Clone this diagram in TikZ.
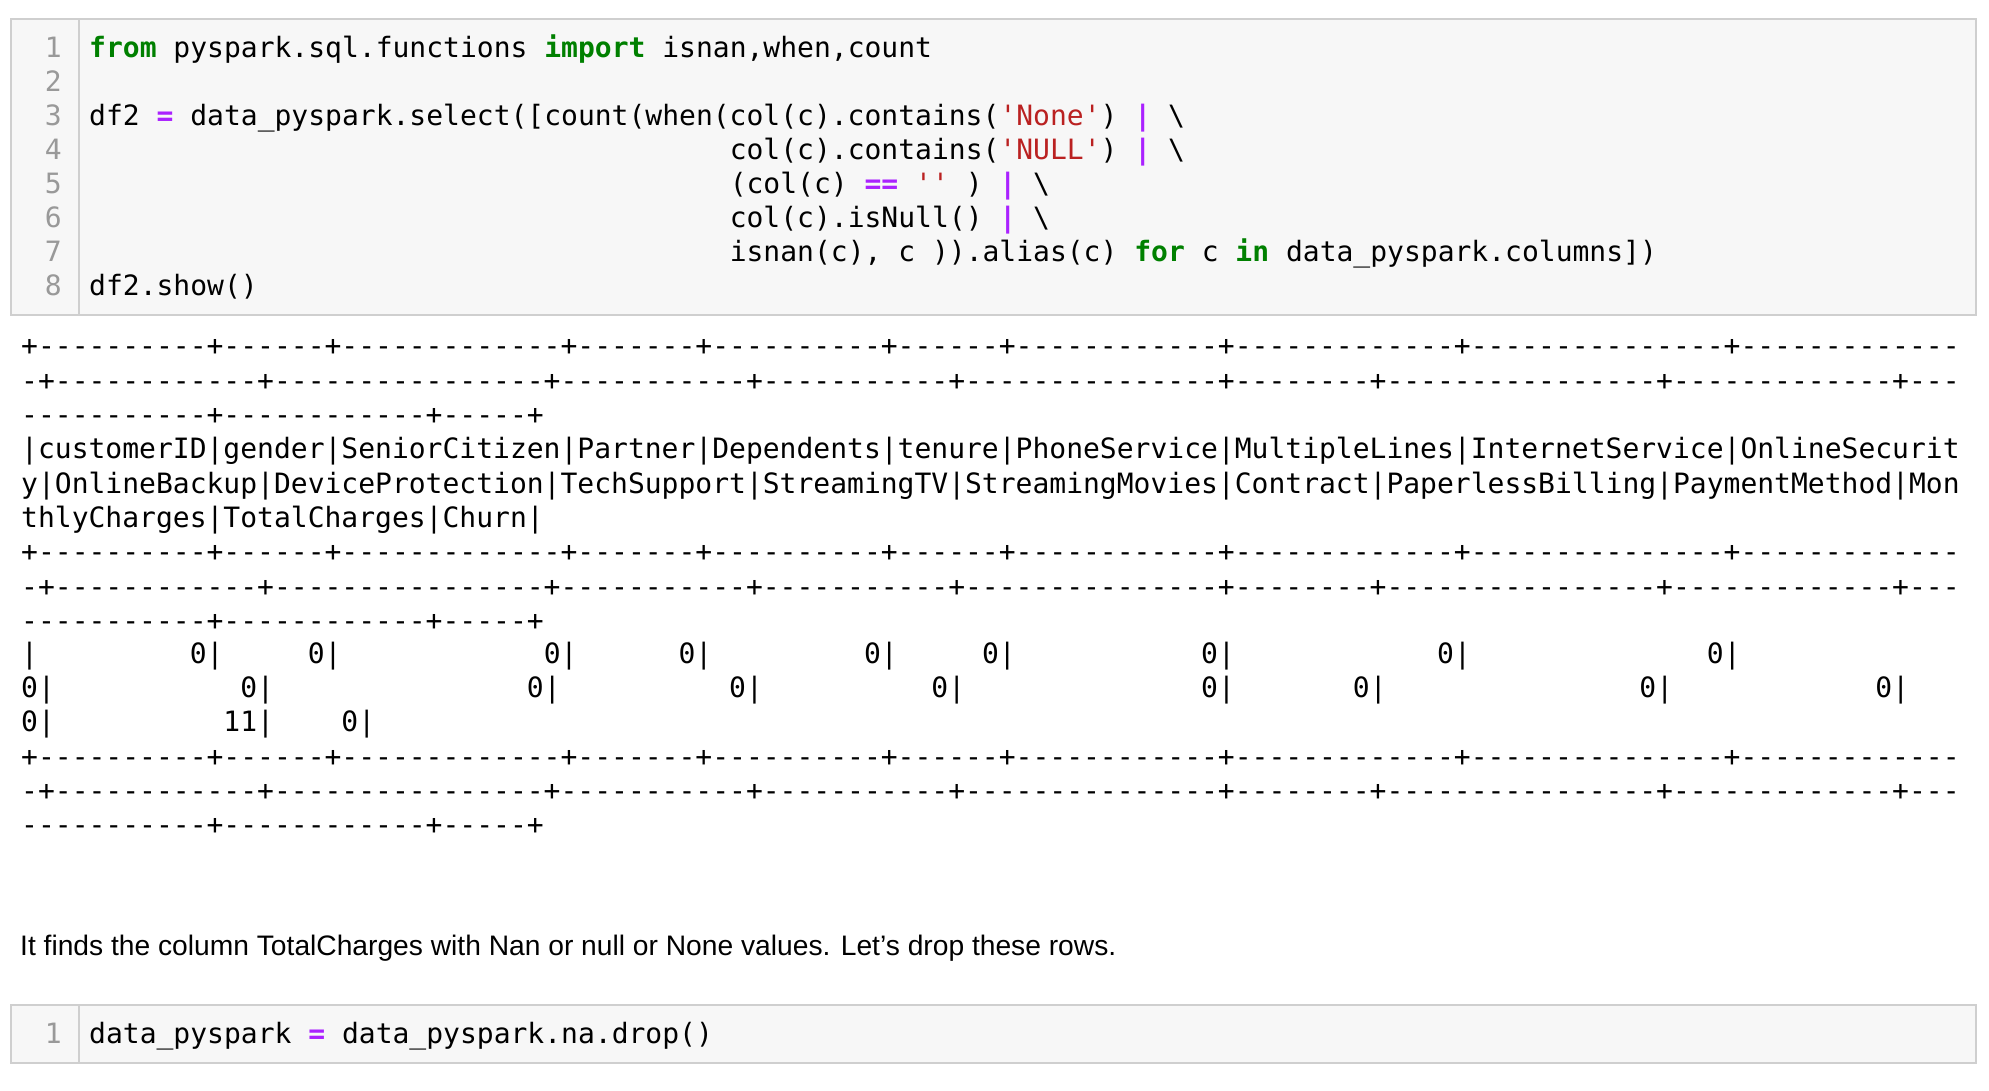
\documentclass[tikz,border=0pt]{standalone}
\usepackage{fontspec}
\setmainfont{Liberation Sans}
\setmonofont{DejaVu Sans Mono}
\definecolor{kw}{HTML}{008000}
\definecolor{op}{HTML}{AA22FF}
\definecolor{st}{HTML}{BA2121}
\definecolor{boxfill}{HTML}{F7F7F7}
\definecolor{boxline}{HTML}{CFCFCF}
\definecolor{lnum}{HTML}{999999}
\newcommand\dsh[1]{\ifnum#1>0 -\expandafter\dsh\expandafter{\the\numexpr#1-1\relax}\fi}
\newcommand\g[1]{\hspace*{#1\dimexpr16.857pt\relax}}
\newcommand\K[1]{\textcolor{kw}{\bfseries #1}}
\newcommand\OP[1]{\textcolor{op}{\bfseries #1}}
\newcommand\ST[1]{\textcolor{st}{#1}}
\tikzset{
  mono/.style={anchor=base west,inner sep=0pt,font=\fontsize{28pt}{34pt}\ttfamily},
  lno/.style={anchor=base east,inner sep=0pt,font=\fontsize{28pt}{34pt}\ttfamily,text=lnum},
  codebox/.style={draw=boxline,fill=boxfill,line width=1.5pt},
}
\begin{document}
\begin{tikzpicture}[x=1pt,y=-1pt]
\useasboundingbox (0,0) rectangle (1989,1090);
\fill[white] (0,0) rectangle (1989,1090);
% first code box
\draw[codebox] (11,19) rectangle (1976,315);
\draw[boxline,line width=1.5pt] (79,19) -- (79,315);
\foreach \n [count=\i] in {1,...,8}{
  \node[lno] (ln\i) at (62,{47+34*(\i-1)+10}) {\n};
}
\node[mono] (c1) at (89,57) {\K{from} pyspark.sql.functions \K{import} isnan,when,count};
\node[mono] (c3) at (89,125) {df2 \OP{=} data\_pyspark.select([count(when(col(c).contains(\ST{'None'}) \OP{|} \textbackslash};
\node[mono] (c4) at (89,159) {\g{38}col(c).contains(\ST{'NULL'}) \OP{|} \textbackslash};
\node[mono] (c5) at (89,193) {\g{38}(col(c) \OP{==} \ST{''} ) \OP{|} \textbackslash};
\node[mono] (c6) at (89,227) {\g{38}col(c).isNull() \OP{|} \textbackslash};
\node[mono] (c7) at (89,261) {\g{38}isnan(c), c )).alias(c) \K{for} c \K{in} data\_pyspark.columns])};
\node[mono] (c8) at (89,295) {df2.show()};
% output table
\def\sa{+\dsh{10}+\dsh{6}+\dsh{13}+\dsh{7}+\dsh{10}+\dsh{6}+\dsh{12}+\dsh{13}+\dsh{15}+\dsh{13}}
\def\sb{-+\dsh{12}+\dsh{16}+\dsh{11}+\dsh{11}+\dsh{15}+\dsh{8}+\dsh{16}+\dsh{13}+\dsh{3}}
\def\sc{\dsh{11}+\dsh{12}+\dsh{5}+}
\node[mono] (s1a) at (21,355) {\sa};
\node[mono] (s1b) at (21,390) {\sb};
\node[mono] (s1c) at (21,424) {\sc};
\node[mono] (h1) at (21,458) {|customerID|gender|SeniorCitizen|Partner|Dependents|tenure|PhoneService|MultipleLines|InternetService|OnlineSecurit};
\node[mono] (h2) at (21,493) {y|OnlineBackup|DeviceProtection|TechSupport|StreamingTV|StreamingMovies|Contract|PaperlessBilling|PaymentMethod|Mon};
\node[mono] (h3) at (21,527) {thlyCharges|TotalCharges|Churn|};
\node[mono] (s2a) at (21,561) {\sa};
\node[mono] (s2b) at (21,596) {\sb};
\node[mono] (s2c) at (21,630) {\sc};
\node[mono] (d1) at (21,663) {|\g{9}0|\g{5}0|\g{12}0|\g{6}0|\g{9}0|\g{5}0|\g{11}0|\g{12}0|\g{14}0|};
\node[mono] (d2) at (21,697) {0|\g{11}0|\g{15}0|\g{10}0|\g{10}0|\g{14}0|\g{7}0|\g{15}0|\g{12}0|};
\node[mono] (d3) at (21,731) {0|\g{10}11|\g{4}0|};
\node[mono] (s3a) at (21,766) {\sa};
\node[mono] (s3b) at (21,800) {\sb};
\node[mono] (s3c) at (21,834) {\sc};
% sentence
\node[anchor=base west,inner sep=0pt,font=\fontsize{28.2pt}{34pt}\selectfont] (txt) at (20,955) {It finds the column TotalCharges with Nan or null or None values. Let{\char"27}s drop these rows.};
% second code box
\draw[codebox] (11,1005) rectangle (1976,1063);
\draw[boxline,line width=1.5pt] (79,1005) -- (79,1063);
\node[lno] (bl1) at (62,1043) {1};
\node[mono] (b1) at (89,1043) {data\_pyspark \OP{=} data\_pyspark.na.drop()};
\end{tikzpicture}
\end{document}
